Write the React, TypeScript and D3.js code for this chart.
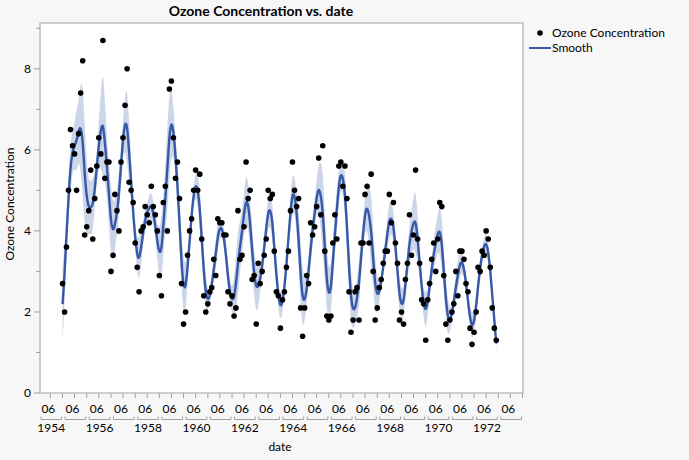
import * as React from 'react';
import * as d3 from 'd3';

// monthly ozone readings, Jan 1955 .. Dec 1972, one row per year
const firstYear = 1955;
const ozone: number[] = [
  2.7, 2.0, 3.6, 5.0, 6.5, 6.1, 5.9, 5.0, 6.4, 7.4, 8.2, 3.9,
  4.1, 4.5, 5.5, 3.8, 4.8, 5.6, 6.3, 5.9, 8.7, 5.3, 5.7, 5.7,
  3.0, 3.4, 4.9, 4.5, 4.0, 5.7, 6.3, 7.1, 8.0, 5.2, 5.0, 4.7,
  3.7, 3.1, 2.5, 4.0, 4.1, 4.6, 4.4, 4.2, 5.1, 4.6, 4.4, 4.0,
  2.9, 2.4, 4.7, 5.1, 4.0, 7.5, 7.7, 6.3, 5.3, 5.7, 4.8, 2.7,
  1.7, 2.0, 3.4, 4.0, 4.3, 5.0, 5.5, 5.0, 5.4, 3.8, 2.4, 2.0,
  2.2, 2.5, 2.6, 3.3, 2.9, 4.3, 4.2, 4.2, 3.9, 3.9, 2.5, 2.2,
  2.4, 1.9, 2.1, 4.5, 3.3, 3.4, 4.1, 5.7, 4.8, 5.0, 2.8, 2.9,
  1.7, 3.2, 2.7, 3.0, 3.4, 3.8, 5.0, 4.8, 4.9, 3.5, 2.5, 2.4,
  1.6, 2.3, 2.5, 3.1, 3.5, 4.5, 5.7, 5.0, 4.6, 4.8, 2.1, 1.4,
  2.1, 2.9, 2.7, 4.2, 3.9, 4.1, 4.6, 5.8, 4.4, 6.1, 3.5, 1.9,
  1.8, 1.9, 3.7, 4.4, 3.8, 5.6, 5.7, 5.1, 5.6, 4.8, 2.5, 1.5,
  1.8, 2.5, 2.6, 1.8, 3.7, 3.7, 4.9, 5.1, 3.7, 5.4, 3.0, 1.8,
  2.1, 2.6, 2.8, 3.2, 3.5, 3.5, 4.9, 4.2, 4.7, 3.7, 3.2, 1.8,
  2.0, 1.7, 2.8, 3.2, 4.4, 3.4, 3.9, 5.5, 3.8, 3.2, 2.3, 2.2,
  1.3, 2.3, 2.7, 3.3, 3.7, 3.0, 3.8, 4.7, 4.6, 2.9, 1.7, 1.3,
  1.8, 2.0, 2.2, 3.0, 2.4, 3.5, 3.5, 3.3, 2.7, 2.5, 1.6, 1.2,
  1.5, 2.0, 3.1, 3.0, 3.5, 3.4, 4.0, 3.8, 3.1, 2.1, 1.6, 1.3,
];
const yTicks = [0, 2, 4, 6, 8];
const yMinor = [1, 3, 5, 7, 9];
const axisYears = d3.range(1954, 1974);
const yearLabels = ['1954', '1956', '1958', '1960', '1962', '1964', '1966', '1968', '1970', '1972'];
const monthLabel = '06';

const W = 689, H = 460;
const frame = { left: 40, right: 523, top: 23, bottom: 393 };
const blue = '#3558a8';
const gray = '#a0a0a0';
const font = 'Lato, "Segoe UI", "Open Sans", sans-serif';

// penalised second-difference smoother with sandwich variance for the band
function smooth(y: number[], lambda: number) {
  const n = y.length;
  const A: number[][] = [];
  for (let i = 0; i < n; i++) { A.push(new Array(2 * n).fill(0)); A[i][i] = 1; A[i][n + i] = 1; }
  const c = [1, -2, 1];
  for (let k = 0; k < n - 2; k++)
    for (let a = 0; a < 3; a++)
      for (let b = 0; b < 3; b++) A[k + a][k + b] += lambda * c[a] * c[b];
  for (let i = 0; i < n; i++) {
    const p = A[i][i];
    for (let j = 0; j < 2 * n; j++) A[i][j] /= p;
    for (let r = 0; r < n; r++) {
      if (r === i) continue;
      const f = A[r][i];
      if (f === 0) continue;
      for (let j = 0; j < 2 * n; j++) A[r][j] -= f * A[i][j];
    }
  }
  const S = A.map(row => row.slice(n));
  const fit = S.map(row => d3.sum(row, (s, j) => s * y[j]));
  const res = y.map((v, i) => v - fit[i]);
  const se = S.map(row => Math.sqrt(d3.sum(row, (s, j) => s * s * res[j] * res[j])));
  return { fit, se };
}

export default function App() {
  const dates = ozone.map((_, i) => new Date(firstYear, i, 1));
  const x = d3.scaleTime()
    .domain([new Date(1954, 0, 26), new Date(1974, 0, 8)])
    .range([frame.left, frame.right]);
  const y = d3.scaleLinear().domain([0, 9.13]).range([frame.bottom, frame.top]);

  const { fit, se } = React.useMemo(() => smooth(ozone, 3.5), []);
  const pts = fit.map((f, i) => ({ d: dates[i], f, lo: f - 1.96 * se[i], hi: f + 1.96 * se[i] }));

  const line = d3.line<any>().x(p => x(p.d)).y(p => y(p.f)).curve(d3.curveNatural);
  const band = d3.area<any>().x(p => x(p.d)).y0(p => y(p.lo)).y1(p => y(p.hi)).curve(d3.curveNatural);

  const halfTicks: Date[] = [];
  axisYears.forEach(yr => { halfTicks.push(new Date(yr, 0, 1)); halfTicks.push(new Date(yr, 6, 1)); });
  halfTicks.push(new Date(1974, 0, 1));
  const inX = (d: Date) => x(d) >= frame.left && x(d) <= frame.right;

  return (
    <svg width={W} height={H} style={{ position: 'absolute', left: 0, top: 0, background: '#f7f7f7' }}
      fontFamily={font}>
      <rect x={frame.left} y={frame.top} width={frame.right - frame.left} height={frame.bottom - frame.top}
        fill="#fff" />
      <text x={261} y={16} textAnchor="middle" fontSize={14} fontWeight="bold">Ozone Concentration vs. date</text>

      <defs>
        <clipPath id="plot">
          <rect x={frame.left} y={frame.top} width={frame.right - frame.left} height={frame.bottom - frame.top} />
        </clipPath>
      </defs>
      <g clipPath="url(#plot)">
        <path d={band(pts) || ''} fill="#cdd5e8" />
        <path d={line(pts) || ''} fill="none" stroke={blue} strokeWidth={2.4} />
        {ozone.map((v, i) => (
          <circle key={i} cx={x(dates[i])} cy={y(v)} r={2.8} fill="#000" />
        ))}
      </g>
      <rect x={frame.left} y={frame.top} width={frame.right - frame.left} height={frame.bottom - frame.top}
        fill="none" stroke={gray} strokeWidth={1} />

      {/* y axis */}
      {yTicks.map(t => (
        <g key={t}>
          <line x1={frame.left - 6} x2={frame.left} y1={y(t)} y2={y(t)} stroke={gray} />
          <text x={31} y={y(t)} dy="0.35em" textAnchor="end" fontSize={12}>{t}</text>
        </g>
      ))}
      {yMinor.filter(t => y(t) >= frame.top).map(t => (
        <line key={t} x1={frame.left - 4} x2={frame.left} y1={y(t)} y2={y(t)} stroke={gray} />
      ))}
      <text transform={`translate(14,204) rotate(-90)`} textAnchor="middle" fontSize={12}>Ozone Concentration</text>

      {/* x axis, nested month / year rows */}
      {halfTicks.filter(inX).map((d, i) => (
        <line key={i} x1={x(d)} x2={x(d)} y1={frame.bottom} y2={frame.bottom + 5} stroke={gray} />
      ))}
      {axisYears.map(yr => {
        const jun = x(new Date(yr, 5, 1));
        const x0 = Math.max(x(new Date(yr, 0, 1)) + 2.5, frame.left + 1);
        const x1 = Math.min(x(new Date(yr + 1, 0, 1)) - 1, frame.right - 1);
        const lbl = yearLabels.find(s => +s === yr);
        return (
          <g key={yr}>
            <text x={jun} y={413} textAnchor="middle" fontSize={12}>{monthLabel}</text>
            <path d={`M${x0},416.5V419.5H${x1}V416.5`} fill="none" stroke={gray} />
            {lbl && <text x={(x0 + x1) / 2} y={432} textAnchor="middle" fontSize={12}>{lbl}</text>}
          </g>
        );
      })}
      <text x={280} y={451} textAnchor="middle" fontSize={12}>date</text>

      {/* legend */}
      <circle cx={540} cy={33} r={2.8} fill="#000" />
      <text x={552} y={33} dy="0.35em" fontSize={12}>Ozone Concentration</text>
      <line x1={529} x2={551} y1={48} y2={48} stroke={blue} strokeWidth={2} />
      <text x={552} y={48} dy="0.35em" fontSize={12}>Smooth</text>
    </svg>
  );
}
